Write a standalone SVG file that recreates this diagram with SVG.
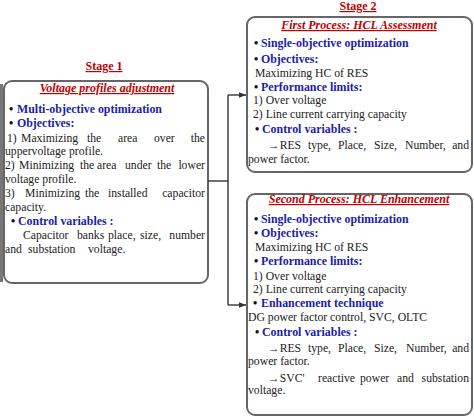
<svg xmlns="http://www.w3.org/2000/svg" width="474" height="418" viewBox="0 0 474 418" font-family="Liberation Serif, Times New Roman, Times, serif">
<style>
text{font-family:"Liberation Serif",Tinos,"Times New Roman",Times,serif;font-size:11.7px;fill:#222}
.stage{font-size:12px;font-weight:bold;fill:#c00000;text-decoration:underline;text-anchor:middle}
.title{font-size:12px;font-weight:bold;font-style:italic;fill:#c00000;text-decoration:underline;text-anchor:middle}
.hd{font-weight:bold;fill:#1c1ca8;font-size:11.9px}
.bul{font-weight:bold;fill:#111;font-size:12px}
.box{fill:#fff;stroke:#666;stroke-width:2}
.conn{fill:none;stroke:#333;stroke-width:1.4}
.e{text-anchor:end}
</style>
<defs>
<marker id="arr" viewBox="0 0 10 10" refX="10" refY="5" markerWidth="7" markerHeight="7" markerUnits="userSpaceOnUse" orient="auto">
<path d="M0,1 L10,5 L0,9 Z" fill="#333"/>
</marker>
</defs>
<rect x="0" y="84" width="3" height="198" fill="#777"/>
<g id="stage1">
<text class="stage" x="104" y="70">Stage 1</text>
<rect class="box" x="4" y="81" width="204" height="202" rx="8"/>
<text class="title" x="107" y="92">Voltage profiles adjustment</text>
<text class="bul" x="9" y="113">•</text><text class="hd" x="17" y="113">Multi-objective optimization</text>
<text class="bul" x="9" y="127">•</text><text class="hd" x="17" y="127">Objectives:</text>
<text y="142"><tspan x="7">1)</tspan><tspan x="21">Maximizing</tspan><tspan x="87">the</tspan><tspan x="118">area</tspan><tspan x="154">over</tspan></text><text class="e" x="205" y="142">the</text>
<text x="5" y="155">uppervoltage profile.</text>
<text y="169"><tspan x="5">2)</tspan><tspan x="19">Minimizing</tspan><tspan x="80">the</tspan><tspan x="97">area</tspan><tspan x="125">under</tspan><tspan x="157">the</tspan></text><text class="e" x="205" y="169">lower</text>
<text x="5" y="183">voltage profile.</text>
<text y="197"><tspan x="5">3)</tspan><tspan x="25">Minimizing</tspan><tspan x="85">the</tspan><tspan x="108">installed</tspan></text><text class="e" x="205" y="197">capacitor</text>
<text x="5" y="211">capacity.</text>
<text class="bul" x="11" y="225">•</text><text class="hd" x="18" y="225">Control variables :</text>
<text y="239"><tspan x="23">Capacitor</tspan><tspan x="77">banks</tspan><tspan x="108">place,</tspan><tspan x="140">size,</tspan></text><text class="e" x="205" y="239">number</text>
<text y="253"><tspan x="5">and</tspan><tspan x="28">substation</tspan><tspan x="88">voltage.</tspan></text>
</g>
<g id="stage2-first">
<text class="stage" x="358" y="10">Stage 2</text>
<rect class="box" x="247" y="17" width="225" height="155" rx="8"/>
<text class="title" x="359" y="29">First Process: HCL Assessment</text>
<text class="bul" x="254" y="47">•</text><text class="hd" x="261" y="47">Single-objective optimization</text>
<text class="bul" x="254" y="63">•</text><text class="hd" x="261" y="63">Objectives:</text>
<text x="255" y="77">Maximizing HC of RES</text>
<text class="bul" x="254" y="91">•</text><text class="hd" x="261" y="91">Performance limits:</text>
<text x="253" y="104">1) Over voltage</text>
<text x="253" y="118">2) Line current carrying capacity</text>
<text class="bul" x="255" y="133">•</text><text class="hd" x="262" y="133">Control variables :</text>
<text y="149"><tspan x="268">→RES</tspan><tspan x="308">type,</tspan><tspan x="338">Place,</tspan><tspan x="374">Size,</tspan><tspan x="405">Number,</tspan></text><text class="e" x="469" y="149">and</text>
<text x="248" y="163">power factor.</text>
</g>
<g id="stage2-second">
<rect class="box" x="247" y="194" width="225" height="221" rx="8"/>
<text class="title" x="359" y="203">Second Process: HCL Enhancement</text>
<text class="bul" x="254" y="223">•</text><text class="hd" x="261" y="223">Single-objective optimization</text>
<text class="bul" x="254" y="237">•</text><text class="hd" x="261" y="237">Objectives:</text>
<text x="255" y="251">Maximizing HC of RES</text>
<text class="bul" x="254" y="265">•</text><text class="hd" x="261" y="265">Performance limits:</text>
<text x="253" y="280">1) Over voltage</text>
<text x="253" y="293">2) Line current carrying capacity</text>
<text class="bul" x="253" y="307">•</text><text class="hd" x="261" y="307">Enhancement technique</text>
<text x="248" y="321">DG power factor control, SVC, OLTC</text>
<text class="bul" x="255" y="336">•</text><text class="hd" x="262" y="336">Control variables :</text>
<text y="352"><tspan x="268">→RES</tspan><tspan x="308">type,</tspan><tspan x="338">Place,</tspan><tspan x="374">Size,</tspan><tspan x="406">Number,</tspan></text><text class="e" x="469" y="352">and</text>
<text x="248" y="365">power factor.</text>
<text y="382"><tspan x="268">→SVC'</tspan><tspan x="318">reactive</tspan><tspan x="360">power</tspan><tspan x="397">and</tspan></text><text class="e" x="469" y="382">substation</text>
<text x="248" y="394">voltage.</text>
</g>
<g id="connectors">
<path class="conn" d="M208,181 H228"/>
<path class="conn" d="M228,95 V305"/>
<path class="conn" d="M228,95 H246" marker-end="url(#arr)"/>
<path class="conn" d="M228,305 H246" marker-end="url(#arr)"/>
</g>
</svg>
